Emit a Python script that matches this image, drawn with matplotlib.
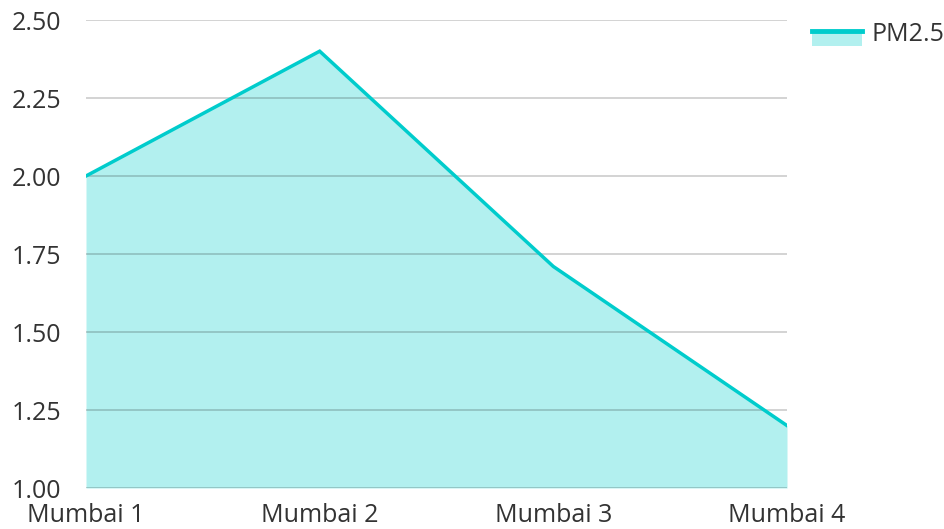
import matplotlib
matplotlib.use("Agg")
import matplotlib.pyplot as plt
from matplotlib.patches import Rectangle
from matplotlib.lines import Line2D
from matplotlib.legend_handler import HandlerBase

categories = ["Mumbai 1", "Mumbai 2", "Mumbai 3", "Mumbai 4"]
pm25 = [2.00, 2.40, 1.71, 1.20]
yticks = [1.00, 1.25, 1.50, 1.75, 2.00, 2.25, 2.50]
series_name = "PM2.5"

line_color = "#00CCCC"
fill_color = "#B2F0EF"
text_color = "#333333"

plt.rcParams['font.family'] = ['Open Sans', 'DejaVu Sans']
FS = 18

fig = plt.figure(figsize=(9.45, 5.29), dpi=100)
ax = fig.add_axes([86/945, 41/529, (787-86)/945, (488-20)/529])

x = list(range(len(categories)))
ax.fill_between(x, pm25, 1.0, color=fill_color, linewidth=0, zorder=1)
ax.plot(x, pm25, color=line_color, linewidth=2.5, zorder=3, solid_joinstyle='miter')

ax.set_xlim(0, len(categories) - 1)
ax.set_ylim(1.0, 2.5)
ax.set_yticks(yticks)
ax.set_yticklabels([f"{v:.2f}" for v in yticks])
ax.set_xticks(x)
ax.set_xticklabels(categories)
ax.grid(axis='y', color='#000000', alpha=0.2, linewidth=1.2, zorder=2)
ax.set_axisbelow(False)
for s in ax.spines.values():
    s.set_visible(False)
ax.tick_params(axis='both', length=0, labelsize=FS, colors=text_color)
ax.tick_params(axis='y', pad=18)
ax.tick_params(axis='x', pad=11)


class AreaHandler(HandlerBase):
    def create_artists(self, legend, orig_handle, xdescent, ydescent, width, height, fontsize, trans):
        r = Rectangle((-xdescent, -ydescent - height * 0.3), width, height * 0.9,
                      facecolor=fill_color, edgecolor='none', transform=trans)
        l = Line2D([-xdescent, -xdescent + width], [-ydescent + height * 0.55, -ydescent + height * 0.55],
                   color=line_color, linewidth=3.5, transform=trans)
        return [r, l]


proxy = Rectangle((0, 0), 1, 1)
leg = ax.legend([proxy], [series_name], handler_map={Rectangle: AreaHandler()},
                loc='upper left', bbox_to_anchor=(812/945, 1 - 22/529),
                bbox_transform=fig.transFigure, frameon=False, fontsize=FS,
                handlelength=2.0, handletextpad=0.4, borderaxespad=0, borderpad=0)
for t in leg.get_texts():
    t.set_color(text_color)

fig.savefig("out.png", dpi=100)
